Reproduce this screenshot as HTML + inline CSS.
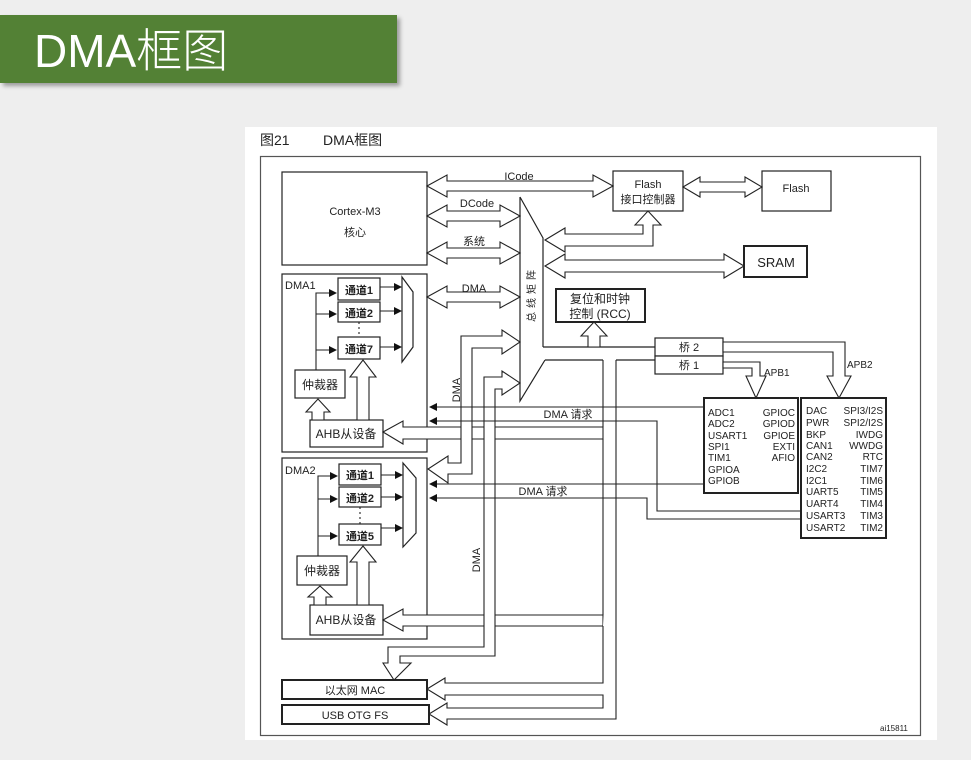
<!DOCTYPE html>
<html><head><meta charset="utf-8"><style>
html,body{margin:0;padding:0;background:#eeeeee;width:971px;height:760px;overflow:hidden}
svg{position:absolute;left:0;top:0}
text{font-family:"Liberation Sans","Noto Sans CJK SC",sans-serif;fill:#222}
</style></head><body>
<svg width="971" height="760" viewBox="0 0 971 760" xmlns="http://www.w3.org/2000/svg">
<defs>
<filter id="sh" x="-5%" y="-10%" width="115%" height="140%"><feDropShadow dx="3" dy="3" stdDeviation="2" flood-color="#000" flood-opacity="0.35"/></filter>
<marker id="ah" markerWidth="8" markerHeight="8" refX="7" refY="4" orient="auto" markerUnits="userSpaceOnUse"><path d="M0,0 L8,4 L0,8 z" fill="#111"/></marker>
</defs>
<rect x="0" y="15" width="397" height="68" fill="#538135" filter="url(#sh)"/>
<text x="34" y="67" font-size="46" style="fill:#fff;font-family:'Liberation Sans','Noto Sans CJK SC',sans-serif;font-weight:300">DMA框图</text>

<rect x="245" y="127" width="692" height="613" fill="#fff"/>
<text x="260" y="145" font-size="14">图21</text>
<text x="323" y="145" font-size="14">DMA框图</text>
<rect x="260.5" y="156.5" width="660" height="579" fill="none" stroke="#555" stroke-width="1.2"/>

<g fill="#fff" stroke="#222" stroke-width="1.2">
<rect x="282" y="172" width="145" height="93"/>
<rect x="613" y="171" width="70" height="40"/>
<rect x="762" y="171" width="69" height="40"/>
<rect x="744" y="246" width="63" height="31" stroke-width="2"/>
<rect x="556" y="289" width="89" height="33" stroke-width="2"/>
<rect x="282" y="274" width="145" height="178"/>
<rect x="282" y="458" width="145" height="181"/>
<rect x="282" y="680" width="145" height="19" stroke-width="2"/>
<rect x="282" y="705" width="147" height="19" stroke-width="2"/>
<rect x="704" y="398" width="94" height="95" stroke-width="2"/>
<rect x="801" y="398" width="85" height="140" stroke-width="2"/>
<rect x="655" y="338" width="68" height="18"/>
<rect x="655" y="356" width="68" height="18"/>
<!-- bus matrix -->
<path d="M543,347 L655,347 M616,360 L655,360 M603,360 L545,360" fill="none"/>
<path d="M520,197 L543,238 L543,347 M545,360 L520,401 L520,197" fill="none"/>
<!-- DMA1 internals -->
<rect x="338" y="278" width="42" height="22"/>
<rect x="338" y="302" width="42" height="20"/>
<rect x="338" y="337" width="42" height="22"/>
<path d="M402,277 L413,292 L413,347 L402,362 Z"/>
<rect x="295" y="370" width="50" height="28"/>
<rect x="310" y="420" width="73" height="27"/>
<!-- DMA2 internals -->
<rect x="339" y="464" width="42" height="21"/>
<rect x="339" y="487" width="42" height="20"/>
<rect x="339" y="524" width="42" height="21"/>
<path d="M403,463 L416,478 L416,533 L403,547 Z"/>
<rect x="297" y="556" width="50" height="29"/>
<rect x="310" y="605" width="73" height="30"/>
</g>

<g fill="#fff" stroke="#222" stroke-width="1.1">
<polygon points="427,186 447,175 447,181 593,181 593,175 613,186 593,197 593,191 447,191 447,197"/>
<polygon points="427,216 447,205 447,211 500,211 500,205 520,216 500,227 500,221 447,221 447,227"/>
<polygon points="427,253 447,242 447,248 500,248 500,242 520,253 500,264 500,258 447,258 447,264"/>
<polygon points="427,297 447,286 447,292 500,292 500,286 520,297 500,308 500,302 447,302 447,308"/>
<polygon points="683,187 700,177 700,182 745,182 745,177 762,187 745,197 745,192 700,192 700,197"/>
<polygon points="545,266 565,254 565,260 724,260 724,254 744,266 724,278 724,272 565,272 565,278"/>
<polygon points="545,240 565,228 565,234 643,234 643,225 635,225 648,211 661,225 653,225 653,246 565,246 565,252"/>
<polygon points="588,347 588,336 581,336 594,322 607,336 600,336 600,347"/>
<polygon points="760,362 723,362 723,368 752,368 752,376 746,376 756,398 766,376 760,376"/>
<polygon points="845,342 723,342 723,352 833,352 833,376 827,376 839,398 851,376 845,376"/>
<polygon points="357,420 357,377 350,377 363,360 376,377 369,377 369,420"/>
<polygon points="312,420 312,412 306,412 318,399 330,412 324,412 324,420"/>
<polygon points="357,605 357,562 350,562 363,546 376,562 369,562 369,605"/>
<polygon points="314,605 314,597 308,597 320,586 332,597 326,597 326,605"/>
<polygon points="383,432 403,421 403,427 603,427 603,439 403,439 403,444"/>
<polygon points="383,620 403,609 403,615 603,615 603,626 403,626 403,631"/>
<path d="M448,463 L461,463 L461,336 L502,336 L502,330 L520,342 L502,354 L502,348 L472,348 L472,474 L448,474 L448,483 L428,469 L448,456 Z"/>
<path d="M383,663 L388,663 L388,647 L484,647 L484,377 L502,377 L502,371 L520,383 L502,395 L502,389 L495,389 L495,656 L400,656 L400,663 L411,663 L394,680 Z"/>
<path d="M603,626 L603,683 L445,683 L445,678 L427,689 L445,700 L445,695 L603,695 L603,708 L447,708 L447,703 L429,714 L447,725 L447,719 L616,719 L616,360"/>
</g>
<g fill="none" stroke="#222" stroke-width="1.1">
<path d="M603,360 L603,427 M603,439 L603,615"/>
<path d="M704,407 L430,407" marker-end="url(#ah)"/>
<path d="M800,511 L657,511 L657,421 L430,421" marker-end="url(#ah)"/>
<path d="M704,484 L430,484" marker-end="url(#ah)"/>
<path d="M800,519 L647,519 L647,498 L430,498" marker-end="url(#ah)"/>
<path d="M316,370 L316,293 L336,293" marker-end="url(#ah)"/>
<path d="M316,314 L336,314" marker-end="url(#ah)"/>
<path d="M316,350 L336,350" marker-end="url(#ah)"/>
<path d="M380,287 L401,287" marker-end="url(#ah)"/>
<path d="M380,311 L401,311" marker-end="url(#ah)"/>
<path d="M380,347 L401,347" marker-end="url(#ah)"/>
<path d="M359,322 L359,337" stroke-dasharray="2,3"/>
<path d="M318,556 L318,476 L337,476" marker-end="url(#ah)"/>
<path d="M318,499 L337,499" marker-end="url(#ah)"/>
<path d="M318,536 L337,536" marker-end="url(#ah)"/>
<path d="M381,475 L402,475" marker-end="url(#ah)"/>
<path d="M381,497 L402,497" marker-end="url(#ah)"/>
<path d="M381,528 L402,528" marker-end="url(#ah)"/>
<path d="M360,507 L360,524" stroke-dasharray="2,3"/>
</g>

<g font-size="11">
<text x="355" y="215" text-anchor="middle">Cortex-M3</text>
<text x="355" y="236" text-anchor="middle">核心</text>
<text x="648" y="188" text-anchor="middle">Flash</text>
<text x="648" y="203" text-anchor="middle">接口控制器</text>
<text x="796" y="192" text-anchor="middle">Flash</text>
<text x="776" y="267" text-anchor="middle" font-size="13">SRAM</text>
<text x="600" y="303" text-anchor="middle" font-size="12">复位和时钟</text>
<text x="600" y="318" text-anchor="middle" font-size="12">控制 (RCC)</text>
<text x="519" y="180" text-anchor="middle">ICode</text>
<text x="477" y="207" text-anchor="middle">DCode</text>
<text x="474" y="245" text-anchor="middle">系统</text>
<text x="474" y="292" text-anchor="middle">DMA</text>
<text transform="translate(535,294) rotate(-90)" text-anchor="middle" font-size="10" letter-spacing="4">总线矩阵</text>
<text x="285" y="289">DMA1</text>
<text x="285" y="474">DMA2</text>
<text x="359" y="294" text-anchor="middle" font-weight="bold">通道1</text>
<text x="359" y="317" text-anchor="middle" font-weight="bold">通道2</text>
<text x="359" y="353" text-anchor="middle" font-weight="bold">通道7</text>
<text x="360" y="479" text-anchor="middle" font-weight="bold">通道1</text>
<text x="360" y="502" text-anchor="middle" font-weight="bold">通道2</text>
<text x="360" y="540" text-anchor="middle" font-weight="bold">通道5</text>
<text x="320" y="389" text-anchor="middle" font-size="12">仲裁器</text>
<text x="322" y="575" text-anchor="middle" font-size="12">仲裁器</text>
<text x="346" y="438" text-anchor="middle" font-size="12">AHB从设备</text>
<text x="346" y="624" text-anchor="middle" font-size="12">AHB从设备</text>
<text x="355" y="694" text-anchor="middle">以太网 MAC</text>
<text x="355" y="719" text-anchor="middle">USB OTG FS</text>
<text x="568" y="418" text-anchor="middle">DMA  请求</text>
<text x="543" y="495" text-anchor="middle">DMA  请求</text>
<text transform="translate(460,390) rotate(-90)" text-anchor="middle">DMA</text>
<text transform="translate(480,560) rotate(-90)" text-anchor="middle">DMA</text>
<text x="689" y="351" text-anchor="middle">桥  2</text>
<text x="689" y="369" text-anchor="middle">桥  1</text>
<text x="764" y="376" font-size="10">APB1</text>
<text x="847" y="368" font-size="10">APB2</text>
<text x="880" y="731" font-size="8">ai15811</text>
</g>
<g font-size="10">
<text x="708" y="416">ADC1</text><text x="708" y="427">ADC2</text><text x="708" y="439">USART1</text>
<text x="708" y="450">SPI1</text><text x="708" y="461">TIM1</text><text x="708" y="473">GPIOA</text><text x="708" y="484">GPIOB</text>
<text x="795" y="416" text-anchor="end">GPIOC</text><text x="795" y="427" text-anchor="end">GPIOD</text>
<text x="795" y="439" text-anchor="end">GPIOE</text><text x="795" y="450" text-anchor="end">EXTI</text><text x="795" y="461" text-anchor="end">AFIO</text>
<text x="806" y="414">DAC</text><text x="806" y="426">PWR</text><text x="806" y="438">BKP</text><text x="806" y="449">CAN1</text>
<text x="806" y="460">CAN2</text><text x="806" y="472">I2C2</text><text x="806" y="484">I2C1</text><text x="806" y="495">UART5</text>
<text x="806" y="507">UART4</text><text x="806" y="519">USART3</text><text x="806" y="531">USART2</text>
<text x="883" y="414" text-anchor="end">SPI3/I2S</text><text x="883" y="426" text-anchor="end">SPI2/I2S</text>
<text x="883" y="438" text-anchor="end">IWDG</text><text x="883" y="449" text-anchor="end">WWDG</text>
<text x="883" y="460" text-anchor="end">RTC</text><text x="883" y="472" text-anchor="end">TIM7</text>
<text x="883" y="484" text-anchor="end">TIM6</text><text x="883" y="495" text-anchor="end">TIM5</text>
<text x="883" y="507" text-anchor="end">TIM4</text><text x="883" y="519" text-anchor="end">TIM3</text>
<text x="883" y="531" text-anchor="end">TIM2</text>
</g>
</svg>
</body></html>
